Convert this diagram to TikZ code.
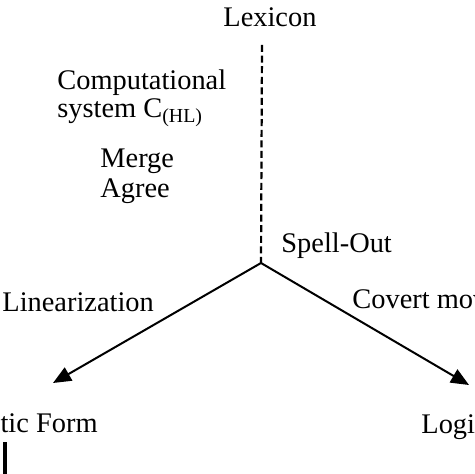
\documentclass[tikz,border=0pt]{standalone}
\usepackage{fontspec}
\setmainfont{Liberation Serif}
\usetikzlibrary{arrows.meta}

\begin{document}
\begin{tikzpicture}[x=0.5pt,y=-0.5pt,
    lbl/.style={inner sep=0pt,font=\fontsize{14.2}{17}\selectfont},
    branch/.style={line width=1pt,-{Triangle[length=9pt,width=7.5pt]}},
    lexline/.style={line width=1.1pt,dash pattern=on 3.5pt off 1.8pt}]
    \useasboundingbox (0,0) rectangle (474,474);
    \clip (0,0) rectangle (474,474);
    % labels
    \node[lbl,anchor=base west] (lexicon) at (223,27) {Lexicon};
    \node[lbl,anchor=base west] (comp) at (57,90) {Computational};
    \node[lbl,anchor=base west] (chl) at (57,118) {system C\textsubscript{(HL)}};
    \node[lbl,anchor=base west] (merge) at (100,168) {Merge};
    \node[lbl,anchor=base west] (agree) at (100,198) {Agree};
    \node[lbl,anchor=base west] (spellout) at (281,253) {Spell-Out};
    \node[lbl,anchor=base west] (linear) at (2,312) {Linearization};
    \node[lbl,anchor=base west] (covert) at (352,308) {Covert movement};
    \node[lbl,anchor=base east] (pf) at (98,432) {Phonetic Form};
    \node[lbl,anchor=base west] (lf) at (421,433) {Logical Form};
    % branches
    \coordinate (lextop) at (262,45);
    \coordinate (split) at (261,263);
    \coordinate (pftip) at (53,383);
    \coordinate (lftip) at (469,385);
    \draw[lexline] (lextop) -- (split);
    \draw[branch] (split) -- (pftip);
    \draw[branch] (split) -- (lftip);
    \draw[line width=2pt] (5,442) -- (5,474);
\end{tikzpicture}
\end{document}
